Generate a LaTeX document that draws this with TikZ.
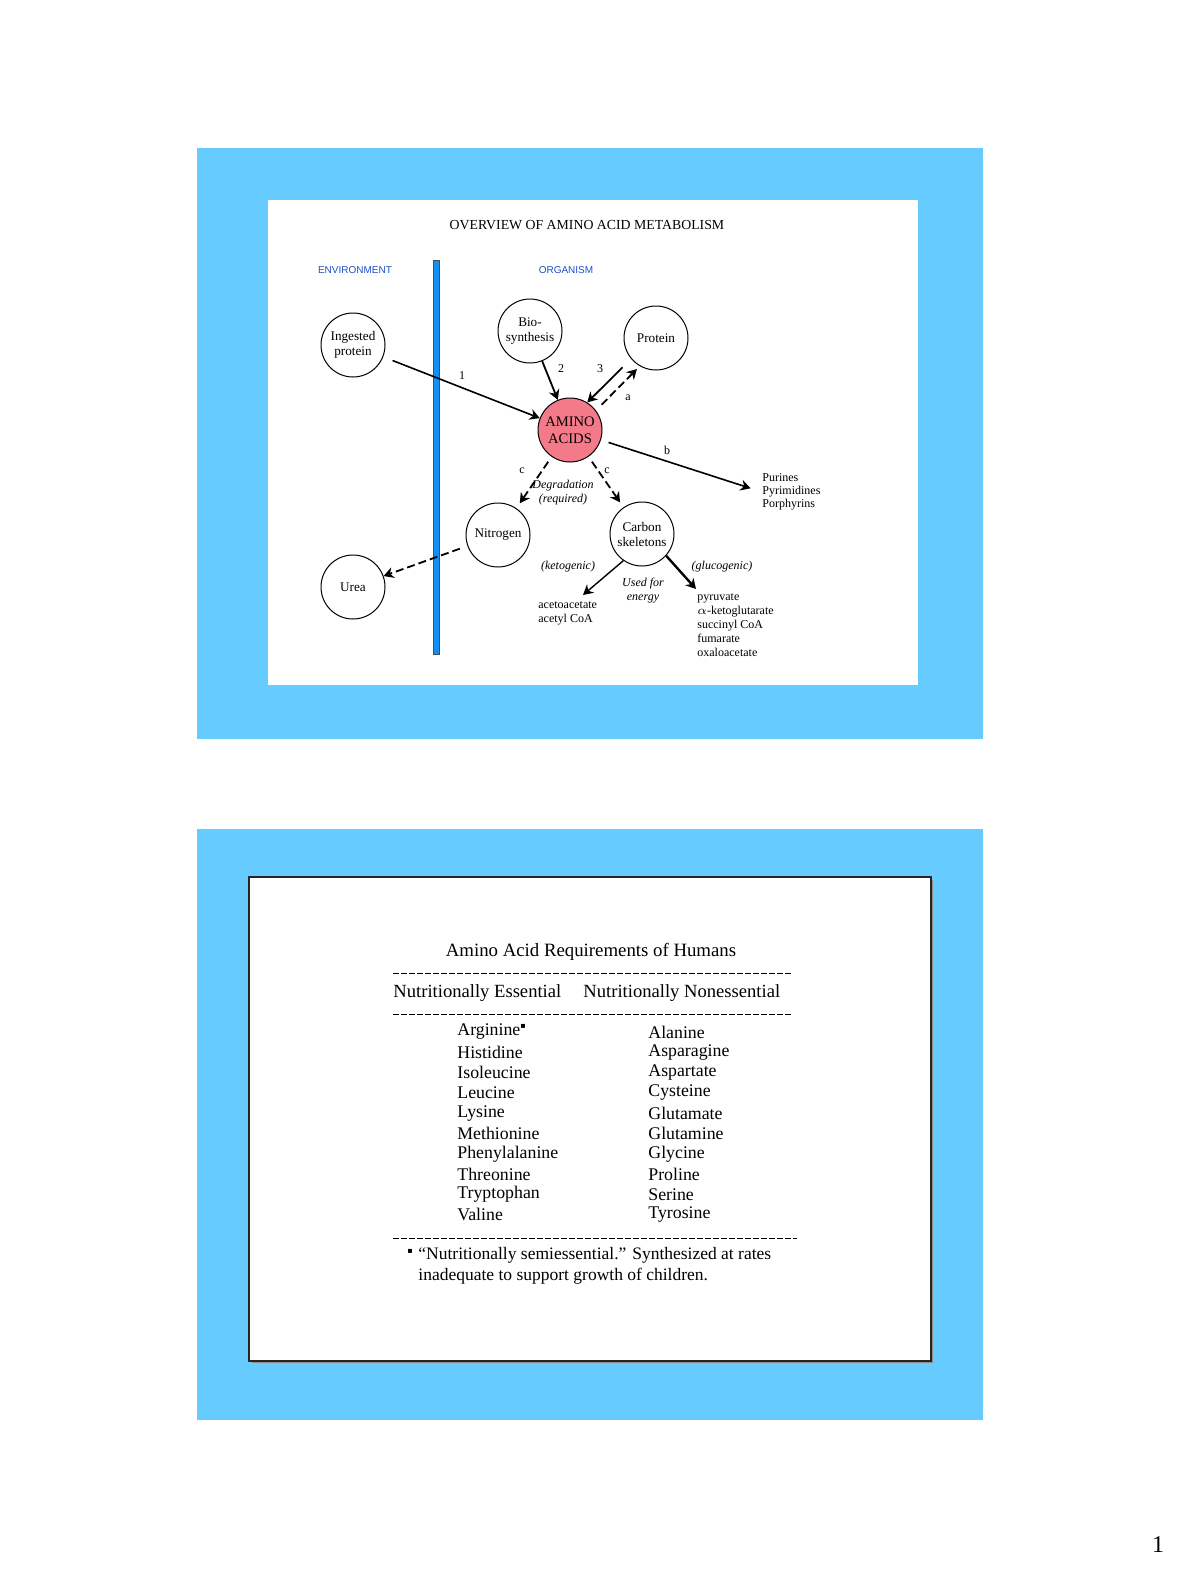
\documentclass[tikz,border=0pt]{standalone}
\usepackage{fontspec}
\setmainfont{Liberation Serif}
\newfontfamily\lsans{Liberation Sans}
\newfontfamily\djv{DejaVu Sans}
\usetikzlibrary{arrows.meta}
\definecolor{slideblue}{HTML}{66CCFF}
\definecolor{aapink}{HTML}{F47A8A}
\definecolor{envblue}{HTML}{1F4FC8}
\definecolor{barblue}{HTML}{1290F5}
\tikzset{
  circ/.style={circle,draw,line width=0.5pt,minimum size=32pt,inner sep=0pt,align=center,font=\fontsize{6.6}{7.5}\selectfont},
  arr/.style={-{Stealth[length=5pt,width=5.5pt]},line width=0.9pt},
  dsh/.style={arr,dash pattern=on 4pt off 2pt},
  lbl/.style={inner sep=0pt,font=\fontsize{6}{7}\selectfont},
  itl/.style={inner sep=0pt,align=center,font=\fontsize{6}{7}\selectfont\itshape},
  side/.style={inner sep=0pt,font=\lsans\fontsize{5}{6}\selectfont,text=envblue},
  lst/.style={inner sep=0pt,anchor=west,align=left,font=\fontsize{6}{7}\selectfont},
  tab/.style={inner sep=0pt,anchor=west,font=\fontsize{8.9}{10}\selectfont},
  hdr/.style={inner sep=0pt,anchor=west,font=\fontsize{9.3}{10}\selectfont},
  rule/.style={line width=0.5pt,dash pattern=on 3pt off 1pt}
}
\begin{document}
\begin{tikzpicture}[x=0.5pt,y=-0.5pt]
\useasboundingbox (0,0) rectangle (1200,1595);
\fill[white] (0,0) rectangle (1200,1595);
% ---------- slide 1 ----------
\fill[slideblue] (197,148) rectangle (983,739);
\fill[white] (268,200) rectangle (918,685);
\node[inner sep=0pt,font=\fontsize{6.9}{8}\selectfont] (title) at (587,225) {OVERVIEW OF AMINO ACID METABOLISM};
\node[side] (env) at (355,270) {ENVIRONMENT};
\node[side] (org) at (566,270) {ORGANISM};
\filldraw[fill=barblue,draw=black!70,line width=0.4pt] (433,260) rectangle (439,654);

\node[circ] (ing) at (353,345) {Ingested\\protein};
\node[circ] (bio) at (530,331) {Bio-\\synthesis};
\node[circ] (prot) at (656,338) {Protein};
\node[circ,fill=aapink,font=\fontsize{7.3}{8.5}\selectfont] (aa) at (570,430) {AMINO\\ACIDS};
\node[circ] (nit) at (498,535) {Nitrogen};
\node[circ] (carb) at (642,534) {Carbon\\skeletons};
\node[circ] (urea) at (353,587) {Urea};

\node[lst,font=\fontsize{6}{6.6}\selectfont] (pur) at (762,492) {Purines\\Pyrimidines\\Porphyrins};
\node[lst,font=\fontsize{6}{7}\selectfont] (keto) at (538,613) {acetoacetate\\acetyl CoA};
\node[lst,font=\fontsize{6}{7}\selectfont] (gluc) at (697,625) {pyruvate\\$\alpha$-ketoglutarate\\succinyl CoA\\fumarate\\oxaloacetate};
\coordinate (ketoend) at (583,595);
\coordinate (glucend) at (696,589);

% arrows
\draw[arr,line width=0.8pt,shorten <=5pt] (ing) -- (aa);
\draw[arr,shorten <=0pt] (bio) -- (aa);
\draw[arr,shorten <=6pt] (prot.220) -- (aa.58);
\draw[dsh,shorten <=4pt,shorten >=2pt] (aa.37) -- (prot.240);
\draw[arr,line width=0.8pt,shorten <=4pt,shorten >=6pt] (aa) -- (pur.west);
\draw[dsh,shorten <=3pt,shorten >=3pt] (aa) -- (nit);
\draw[dsh,shorten <=3pt,shorten >=3pt] (aa) -- (carb);
\draw[dsh,shorten <=4pt] (nit) -- (urea);
\draw[arr,line width=0.7pt] (carb.235) -- (ketoend);
\draw[arr,line width=1.2pt] (carb.318) -- (glucend);

% arrow labels
\node[lbl] (l1) at (462,376) {1};
\node[lbl] (l2) at (561,369) {2};
\node[lbl] (l3) at (600,369) {3};
\node[lbl] (la) at (628,398) {a};
\node[lbl] (lb) at (667,450) {b};
\node[lbl] (lc1) at (522,471) {c};
\node[lbl] (lc2) at (607,471) {c};
\node[itl] (deg) at (563,493) {Degradation\\(required)};
\node[itl] (kg) at (568,567) {(ketogenic)};
\node[itl] (gg) at (722,567) {(glucogenic)};
\node[itl] (ufe) at (643,591) {Used for\\energy};

% ---------- slide 2 ----------
\fill[slideblue] (197,829) rectangle (983,1420);
\fill[black!45] (252,880) rectangle (933,1363);
\filldraw[fill=white,draw=black!85,line width=0.9pt] (249,877) rectangle (931,1361);
\node[inner sep=0pt,font=\fontsize{9.4}{11}\selectfont] (ttl) at (591,952) {Amino Acid Requirements of Humans};
\draw[rule] (393,973) -- (792,973);
\node[hdr] (h1) at (393,993) {Nutritionally Essential};
\node[hdr] (h2) at (583,993) {Nutritionally Nonessential};
\draw[rule] (393,1014) -- (792,1014);
\foreach \n/\a/\b [count=\i from 0] in {
  Arginine\textsuperscript{\djv\fontsize{4}{4}\selectfont ▪}/Alanine,
  Histidine/Asparagine, Isoleucine/Aspartate, Leucine/Cysteine,
  Lysine/Glutamate, Methionine/Glutamine, Phenylalanine/Glycine,
  Threonine/Proline, Tryptophan/Serine, Valine/Tyrosine}{
  \node[tab] (e\i) at (457,1032+20.3*\i) {\n};
  \node[tab] (n\i) at (648,1032+20.3*\i) {\a};
}
\draw[rule] (393,1238) -- (797,1238);
\node[inner sep=0pt,font=\djv\fontsize{4}{4}\selectfont] (bul) at (410,1251) {▪};
\node[inner sep=0pt,anchor=west,align=left,font=\fontsize{8.75}{10.5}\selectfont] (fn) at (418,1266) {“Nutritionally semiessential.” Synthesized at rates\\inadequate to support growth of children.};

\node[inner sep=0pt,font=\fontsize{12}{14}\selectfont] (pg) at (1158,1545) {1};
\end{tikzpicture}
\end{document}
